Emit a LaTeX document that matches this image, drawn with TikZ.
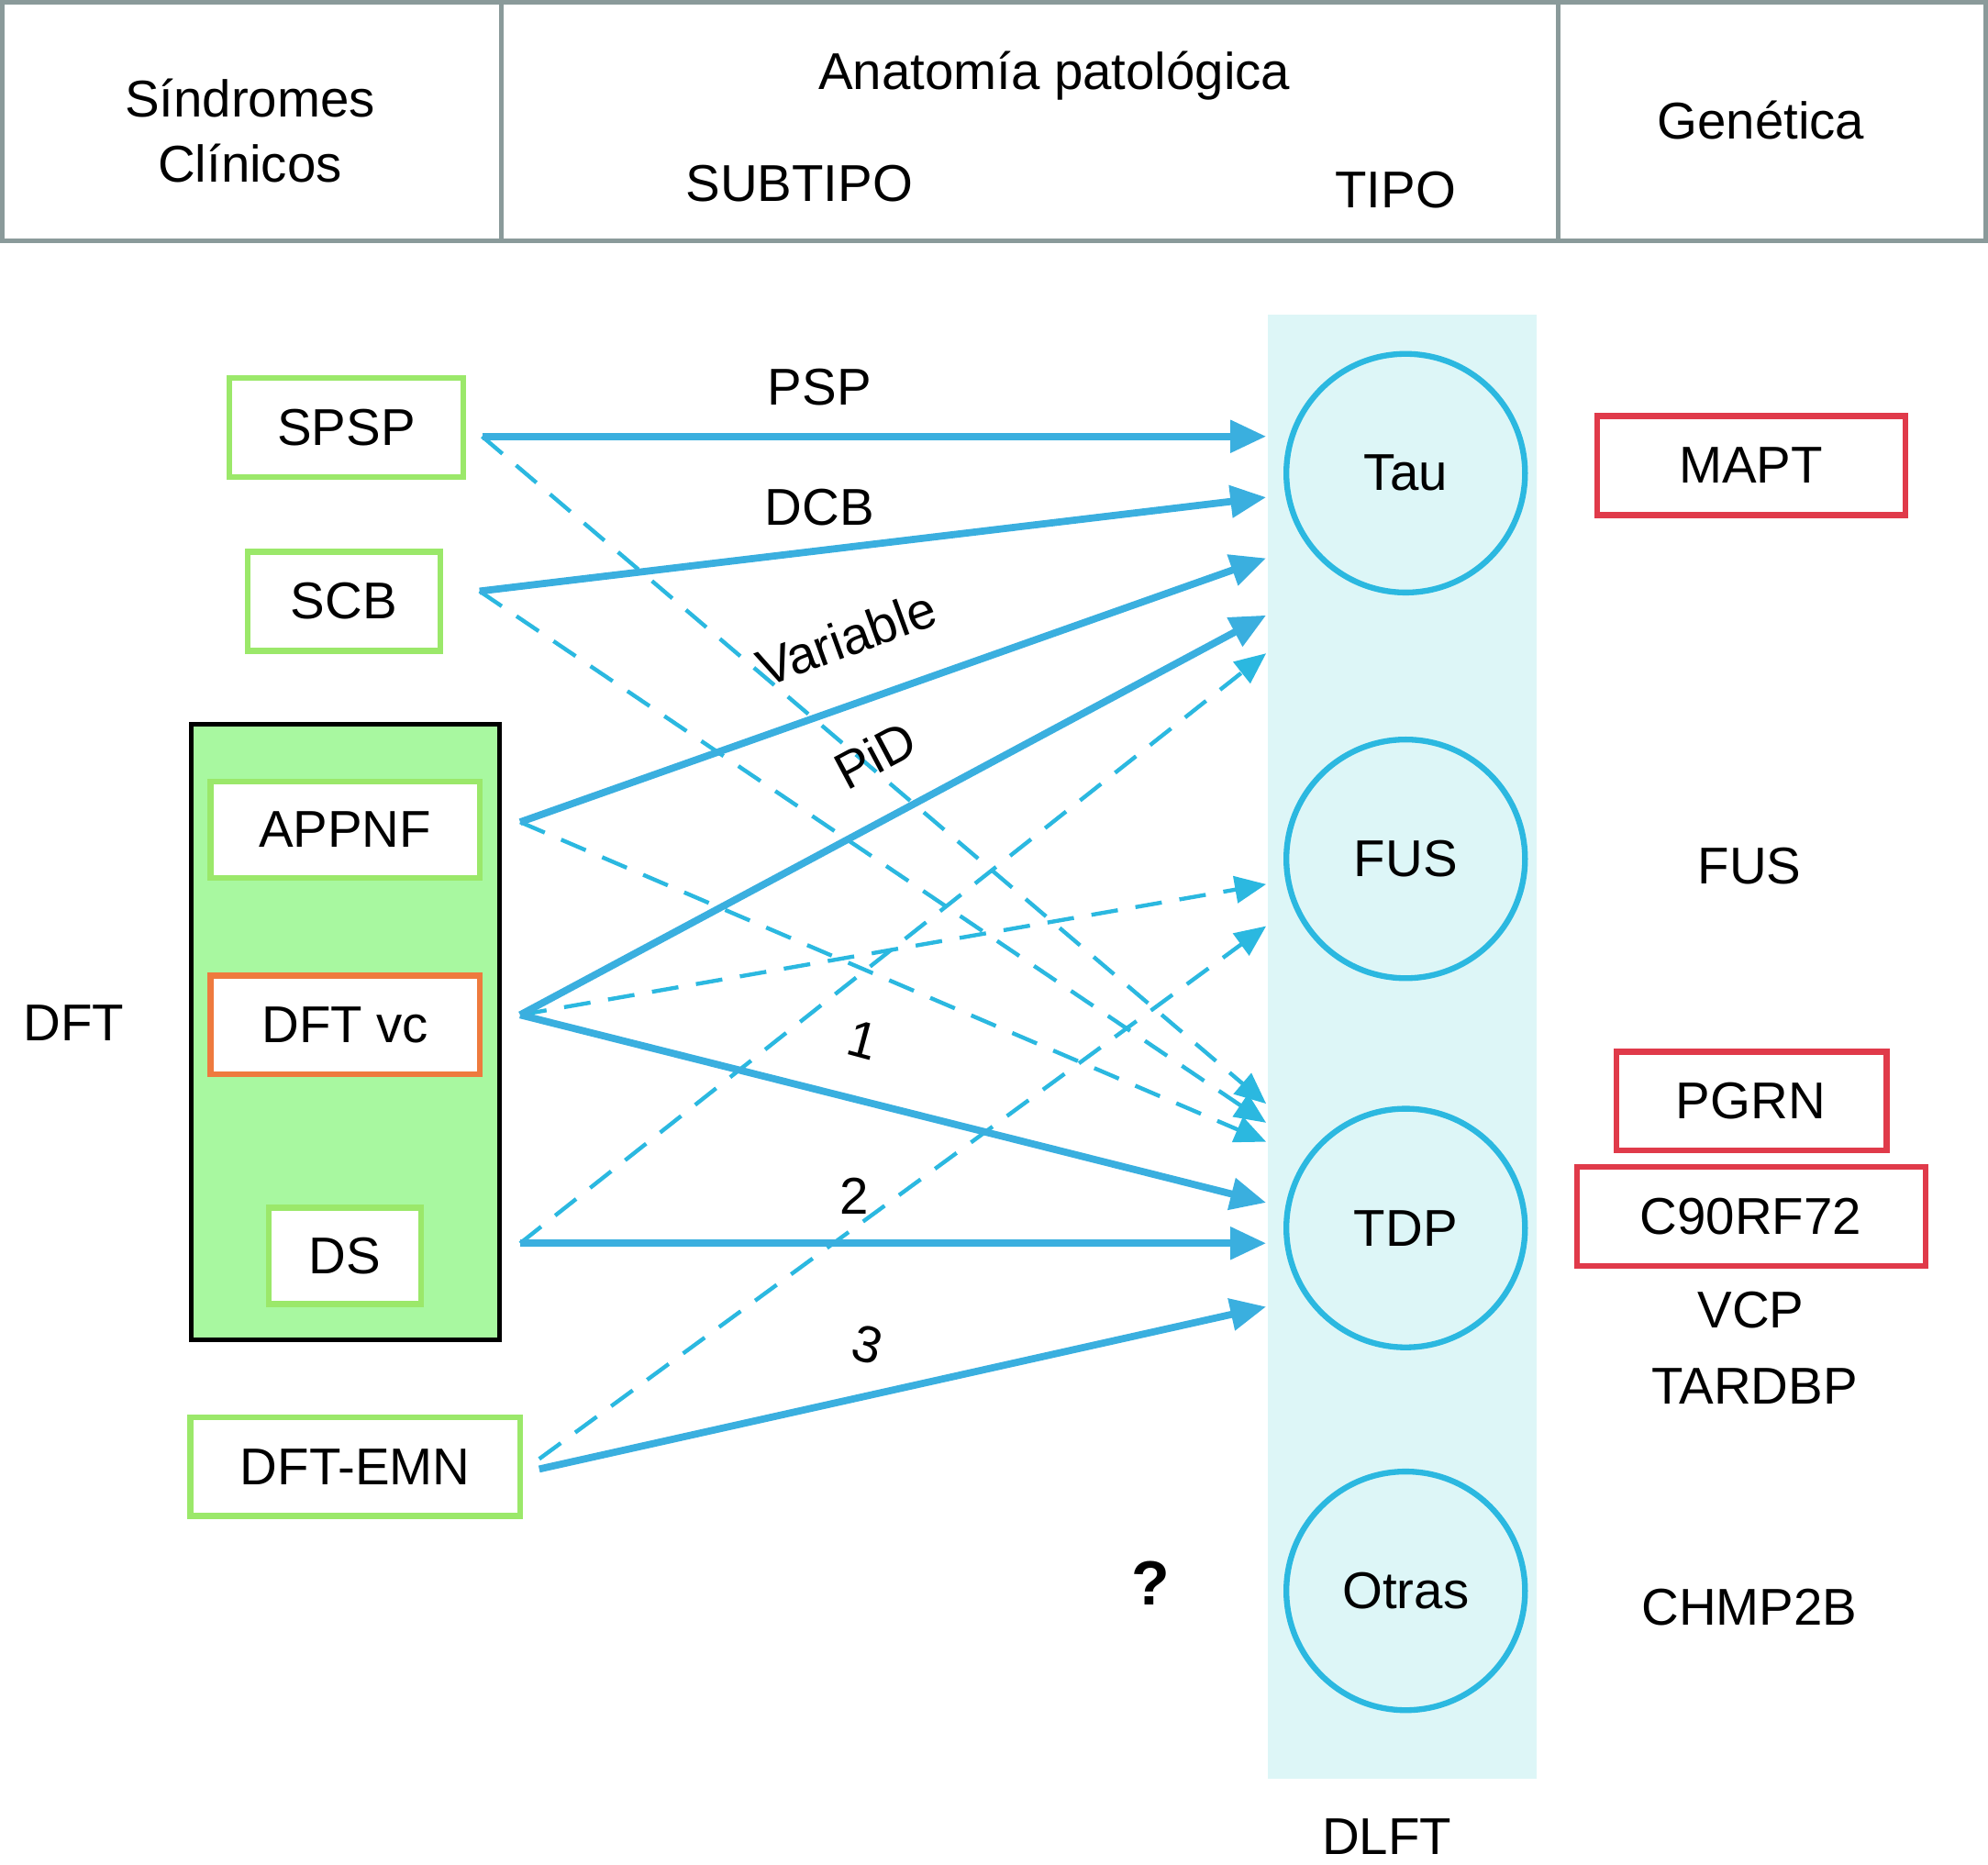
\documentclass[tikz,border=0pt]{standalone}
\usepackage{fontspec}
\setmainfont{Liberation Sans}
\usetikzlibrary{arrows.meta}
\definecolor{ablue}{HTML}{3AAFDF}
\definecolor{cblue}{HTML}{2BB8E0}
\definecolor{band}{HTML}{DDF6F7}
\definecolor{gbox}{HTML}{9BE86A}
\definecolor{gfill}{HTML}{A8F8A0}
\definecolor{rbox}{HTML}{E03A4A}
\definecolor{obox}{HTML}{EE7A3E}
\definecolor{hgray}{HTML}{8A9A9A}
\begin{document}
\begin{tikzpicture}[x=0.01cm,y=-0.01cm,font=\fontsize{11.6}{14.5}\selectfont,
 gb/.style={draw=gbox,line width=1.3pt,fill=white},
 rb/.style={draw=rbox,line width=1.3pt},
 circ/.style={circle,draw=cblue,line width=1.3pt,minimum size=1.88cm},
 sol/.style={draw=ablue,line width=1.6pt,-{Triangle[length=8pt,width=7pt]}},
 das/.style={draw=cblue,line width=0.9pt,dash pattern=on 6pt off 4pt,-{Triangle[length=7pt,width=6pt]}}]
\useasboundingbox (0,0) rectangle (1567,1470);
% header
\draw[hgray,line width=1pt] (2,2) rectangle (1565,190);
\draw[hgray,line width=1pt] (395,2) -- (395,190) (1228,2) -- (1228,190);
\node[align=center] (sc) at (197,103) {Síndromes\\Clínicos};
\node (ap) at (831,60) {Anatomía patológica};
\node (sub) at (630,145) {SUBTIPO};
\node (tip) at (1100,150) {TIPO};
\node (gen) at (1388,95) {Genética};
% band
\fill[band] (999,248) rectangle (1211,1402);
\node[circ] (tau) at (1108,373) {Tau};
\node[circ] (fus) at (1108,677) {FUS};
\node[circ] (tdp) at (1108,968) {TDP};
\node[circ] (otr) at (1108,1254) {Otras};
\node (dlft) at (1093,1448) {DLFT};
\node[font=\fontsize{14}{16}\selectfont\bfseries] (q) at (907,1248) {?};
% left
\draw[black,line width=1pt,fill=gfill] (151,571) rectangle (394,1056);
\draw[gb] (181,298) rectangle (365,376); \node (spsp) at (273,337) {SPSP};
\draw[gb] (195,435) rectangle (347,513); \node (scb) at (271,474) {SCB};
\draw[gb] (166,616) rectangle (378,692); \node (appnf) at (272,654) {APPNF};
\draw[draw=obox,line width=1.3pt,fill=white] (166,769) rectangle (378,847); \node (dftvc) at (272,808) {DFT vc};
\draw[gb] (212,952) rectangle (332,1028); \node (ds) at (272,990) {DS};
\draw[gb] (150,1117) rectangle (410,1195); \node (emn) at (280,1156) {DFT-EMN};
\node (dft) at (58,806) {DFT};
% right
\draw[rb] (1259,328) rectangle (1502,406); \node (mapt) at (1380,367) {MAPT};
\node (gfus) at (1379,683) {FUS};
\draw[rb] (1274,829) rectangle (1487,907); \node (pgrn) at (1380,868) {PGRN};
\draw[rb] (1243,920) rectangle (1518,998); \node (c9) at (1380,959) {C90RF72};
\node (vcp) at (1380,1033) {VCP};
\node (tar) at (1383,1093) {TARDBP};
\node (chm) at (1379,1267) {CHMP2B};
% anchor coordinates
\coordinate (a1) at (380,344); \coordinate (a2) at (378,466);
\coordinate (a3) at (410,648); \coordinate (a4) at (410,800);
\coordinate (a5) at (410,980); \coordinate (a6) at (425,1158);
\coordinate (a6d) at (425,1150);
\coordinate (t1) at (998,344); \coordinate (t2) at (998,392);
\coordinate (t3) at (998,440); \coordinate (t4) at (998,485);
\coordinate (t5) at (998,948); \coordinate (t6) at (998,980);
\coordinate (t7) at (998,1030);
\coordinate (d1) at (998,870); \coordinate (d2) at (998,885);
\coordinate (d3) at (998,900); \coordinate (d4) at (998,697);
\coordinate (d5) at (998,515); \coordinate (d6) at (998,730);
% dashed
\draw[das] (a1) -- (d1);
\draw[das] (a2) -- (d2);
\draw[das] (a3) -- (d3);
\draw[das] (a4) -- (d4);
\draw[das] (a5) -- (d5);
\draw[das] (a6d) -- (d6);
% solid
\draw[sol] (a1) -- (t1);
\draw[sol] (a2) -- (t2);
\draw[sol] (a3) -- (t3);
\draw[sol] (a4) -- (t4);
\draw[sol] (a4) -- (t5);
\draw[sol] (a5) -- (t6);
\draw[sol] (a6) -- (t7);
% labels
\node (lpsp) at (646,305) {PSP};
\node (ldcb) at (646,400) {DCB};
\node[rotate=20] (lvar) at (667,503) {Variable};
\node[rotate=28] (lpid) at (690,595) {PiD};
\node[rotate=-15] (l1) at (680,820) {1};
\node (l2) at (673,943) {2};
\node[rotate=-15] (l3) at (684,1060) {3};
\end{tikzpicture}
\end{document}
